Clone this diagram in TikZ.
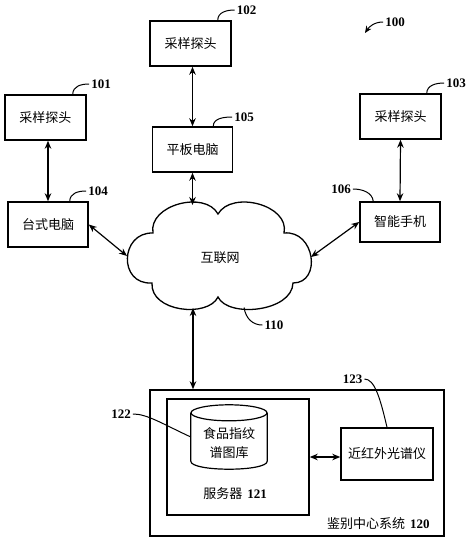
\documentclass[tikz,border=0pt]{standalone}
\usepackage{fontspec}
\setmainfont{Liberation Serif}
\newfontfamily\cjk{Noto Sans CJK SC}
\usetikzlibrary{arrows.meta,calc}
\tikzset{
  boxline/.style={line width=1.5pt},
  box/.style={draw, boxline, inner sep=0pt, font=\cjk\fontsize{13}{15}\selectfont},
  dbl/.style={line width=1.2pt, {Stealth[length=8pt,width=6.5pt]}-{Stealth[length=8pt,width=6.5pt]}},
  leader/.style={line width=1pt},
  num/.style={font=\bfseries\fontsize{13}{15}\selectfont, inner sep=2pt},
  cjktext/.style={font=\cjk\fontsize{13}{16}\selectfont, inner sep=0pt},
}
\begin{document}
\begin{tikzpicture}[x=1pt,y=-1pt]
\useasboundingbox (0,0) rectangle (474,546);
% boxes
\node[box, minimum width=81pt, minimum height=45pt] (b101) at (45.5,117.5) {采样探头};
\node[box, minimum width=81pt, minimum height=45pt] (b102) at (190.5,43.5) {采样探头};
\node[box, minimum width=81pt, minimum height=45pt] (b103) at (400.5,116.5) {采样探头};
\node[box, minimum width=80pt, minimum height=45pt] (b105) at (192.5,149.5) {平板电脑};
\node[box, minimum width=80pt, minimum height=45pt] (b104) at (48,224.5) {台式电脑};
\node[box, minimum width=80pt, minimum height=40pt] (b106) at (400,222) {智能手机};
\node[draw, boxline, minimum width=294pt, minimum height=146pt] (b120) at (297,463) {};
\node[draw, boxline, minimum width=142pt, minimum height=116pt] (b121) at (238,457) {};
\node[box, minimum width=92pt, minimum height=52pt] (b123) at (387,454) {近红外光谱仪};
% database cylinder
\node[minimum width=76pt, minimum height=64pt, inner sep=0pt] (db) at (229,437) {};
\draw[line width=1.2pt] ($(db.north)+(0,8)$) ellipse [x radius=38pt, y radius=8pt];
\draw[line width=1.2pt] ($(db.north west)+(0,8)$) -- ($(db.south west)+(0,-8)$)
  .. controls +(0,10.67) and +(0,10.67) .. ($(db.south east)+(0,-8)$) -- ($(db.north east)+(0,8)$);
\node[cjktext, align=center] (dbtext) at ($(db.center)+(0,6)$) {食品指纹\\[3pt]谱图库};
\node[inner sep=0pt] (srv) at ($(b121.south)+(-3,-22)$) {{\cjk\fontsize{13}{15}\selectfont 服务器}\ \ {\bfseries\fontsize{13}{15}\selectfont 121}};
\node[inner sep=0pt, anchor=east] (sys) at ($(b120.south east)+(-15,-13)$) {{\cjk\fontsize{13}{15}\selectfont 鉴别中心系统}\ \ {\bfseries\fontsize{13}{15}\selectfont 120}};
% cloud
\draw[line width=1.3pt] (153,233)
  .. controls (148,205) and (205,190) .. (218,214)
  .. controls (232,190) and (290,205) .. (284,233)
  .. controls (315,230) and (322,283) .. (293,283)
  .. controls (292,312) and (228,318) .. (218,297)
  .. controls (208,318) and (150,312) .. (152,283)
  .. controls (118,285) and (120,232) .. (153,233) -- cycle;
\node[cjktext] (cloud) at (220,258) {互联网};
\coordinate (ctop) at (192.5,205);
\coordinate (cleft) at (127,256);
\coordinate (cright) at (311,257);
\coordinate (cbot) at (193,308);
\coordinate (c110) at (244,307.5);
\coordinate (a100) at (365,33);
% connectors
\draw[dbl] (b104.north |- b101.south) -- (b104.north);
\draw[dbl] (b105.north |- b102.south) -- (b105.north);
\draw[dbl] (b103.south) -- (b106.north);
\draw[dbl] (b105.south) -- (ctop);
\draw[dbl] (b104.east) -- (cleft);
\draw[dbl] (b106.west) -- (cright);
\draw[dbl] (cbot) -- (cbot |- b120.north);
\draw[dbl] (b121.east) -- (b121.east -| b123.west);
% labels
\node[num] (l101) at (101,84) {101};
\node[num] (l102) at (246.5,10) {102};
\node[num] (l103) at (456,83) {103};
\node[num] (l104) at (98,191) {104};
\node[num] (l105) at (244,117) {105};
\node[num] (l106) at (341,189) {106};
\node[num] (l110) at (274,325) {110};
\node[num] (l122) at (121,414) {122};
\node[num] (l123) at (352.5,379) {123};
\node[num] (l100) at (395,22) {100};
\draw[leader] (l101.west) .. controls +(-8,0) and +(0,-8) .. ([xshift=-14pt]b101.north east);
\draw[leader] (l102.west) .. controls +(-8,0) and +(0,-8) .. ([xshift=-14pt]b102.north east);
\draw[leader] (l103.west) .. controls +(-8,0) and +(0,-8) .. ([xshift=-15pt]b103.north east);
\draw[leader] (l104.west) .. controls +(-8,0) and +(0,-8) .. ([xshift=-19pt]b104.north east);
\draw[leader] (l105.west) .. controls +(-8,0) and +(0,-8) .. ([xshift=-20pt]b105.north east);
\draw[leader] (l106.east) .. controls +(9,0) and +(-1,-9) .. ([xshift=14pt]b106.north west);
\draw[leader] (c110) .. controls +(2,12) and +(-9,0) .. (l110.west);
\draw[leader] (l122.east) .. controls +(14,0) and +(-30,-14) .. (db.west);
\draw[leader] (l123.east) .. controls +(10,0) and +(-7,-30) .. (b123.north);
\draw[leader, -{Stealth[length=7pt,width=6pt]}] (l100.west) .. controls +(-9,0) and +(4,-6) .. (a100);
\end{tikzpicture}
\end{document}
